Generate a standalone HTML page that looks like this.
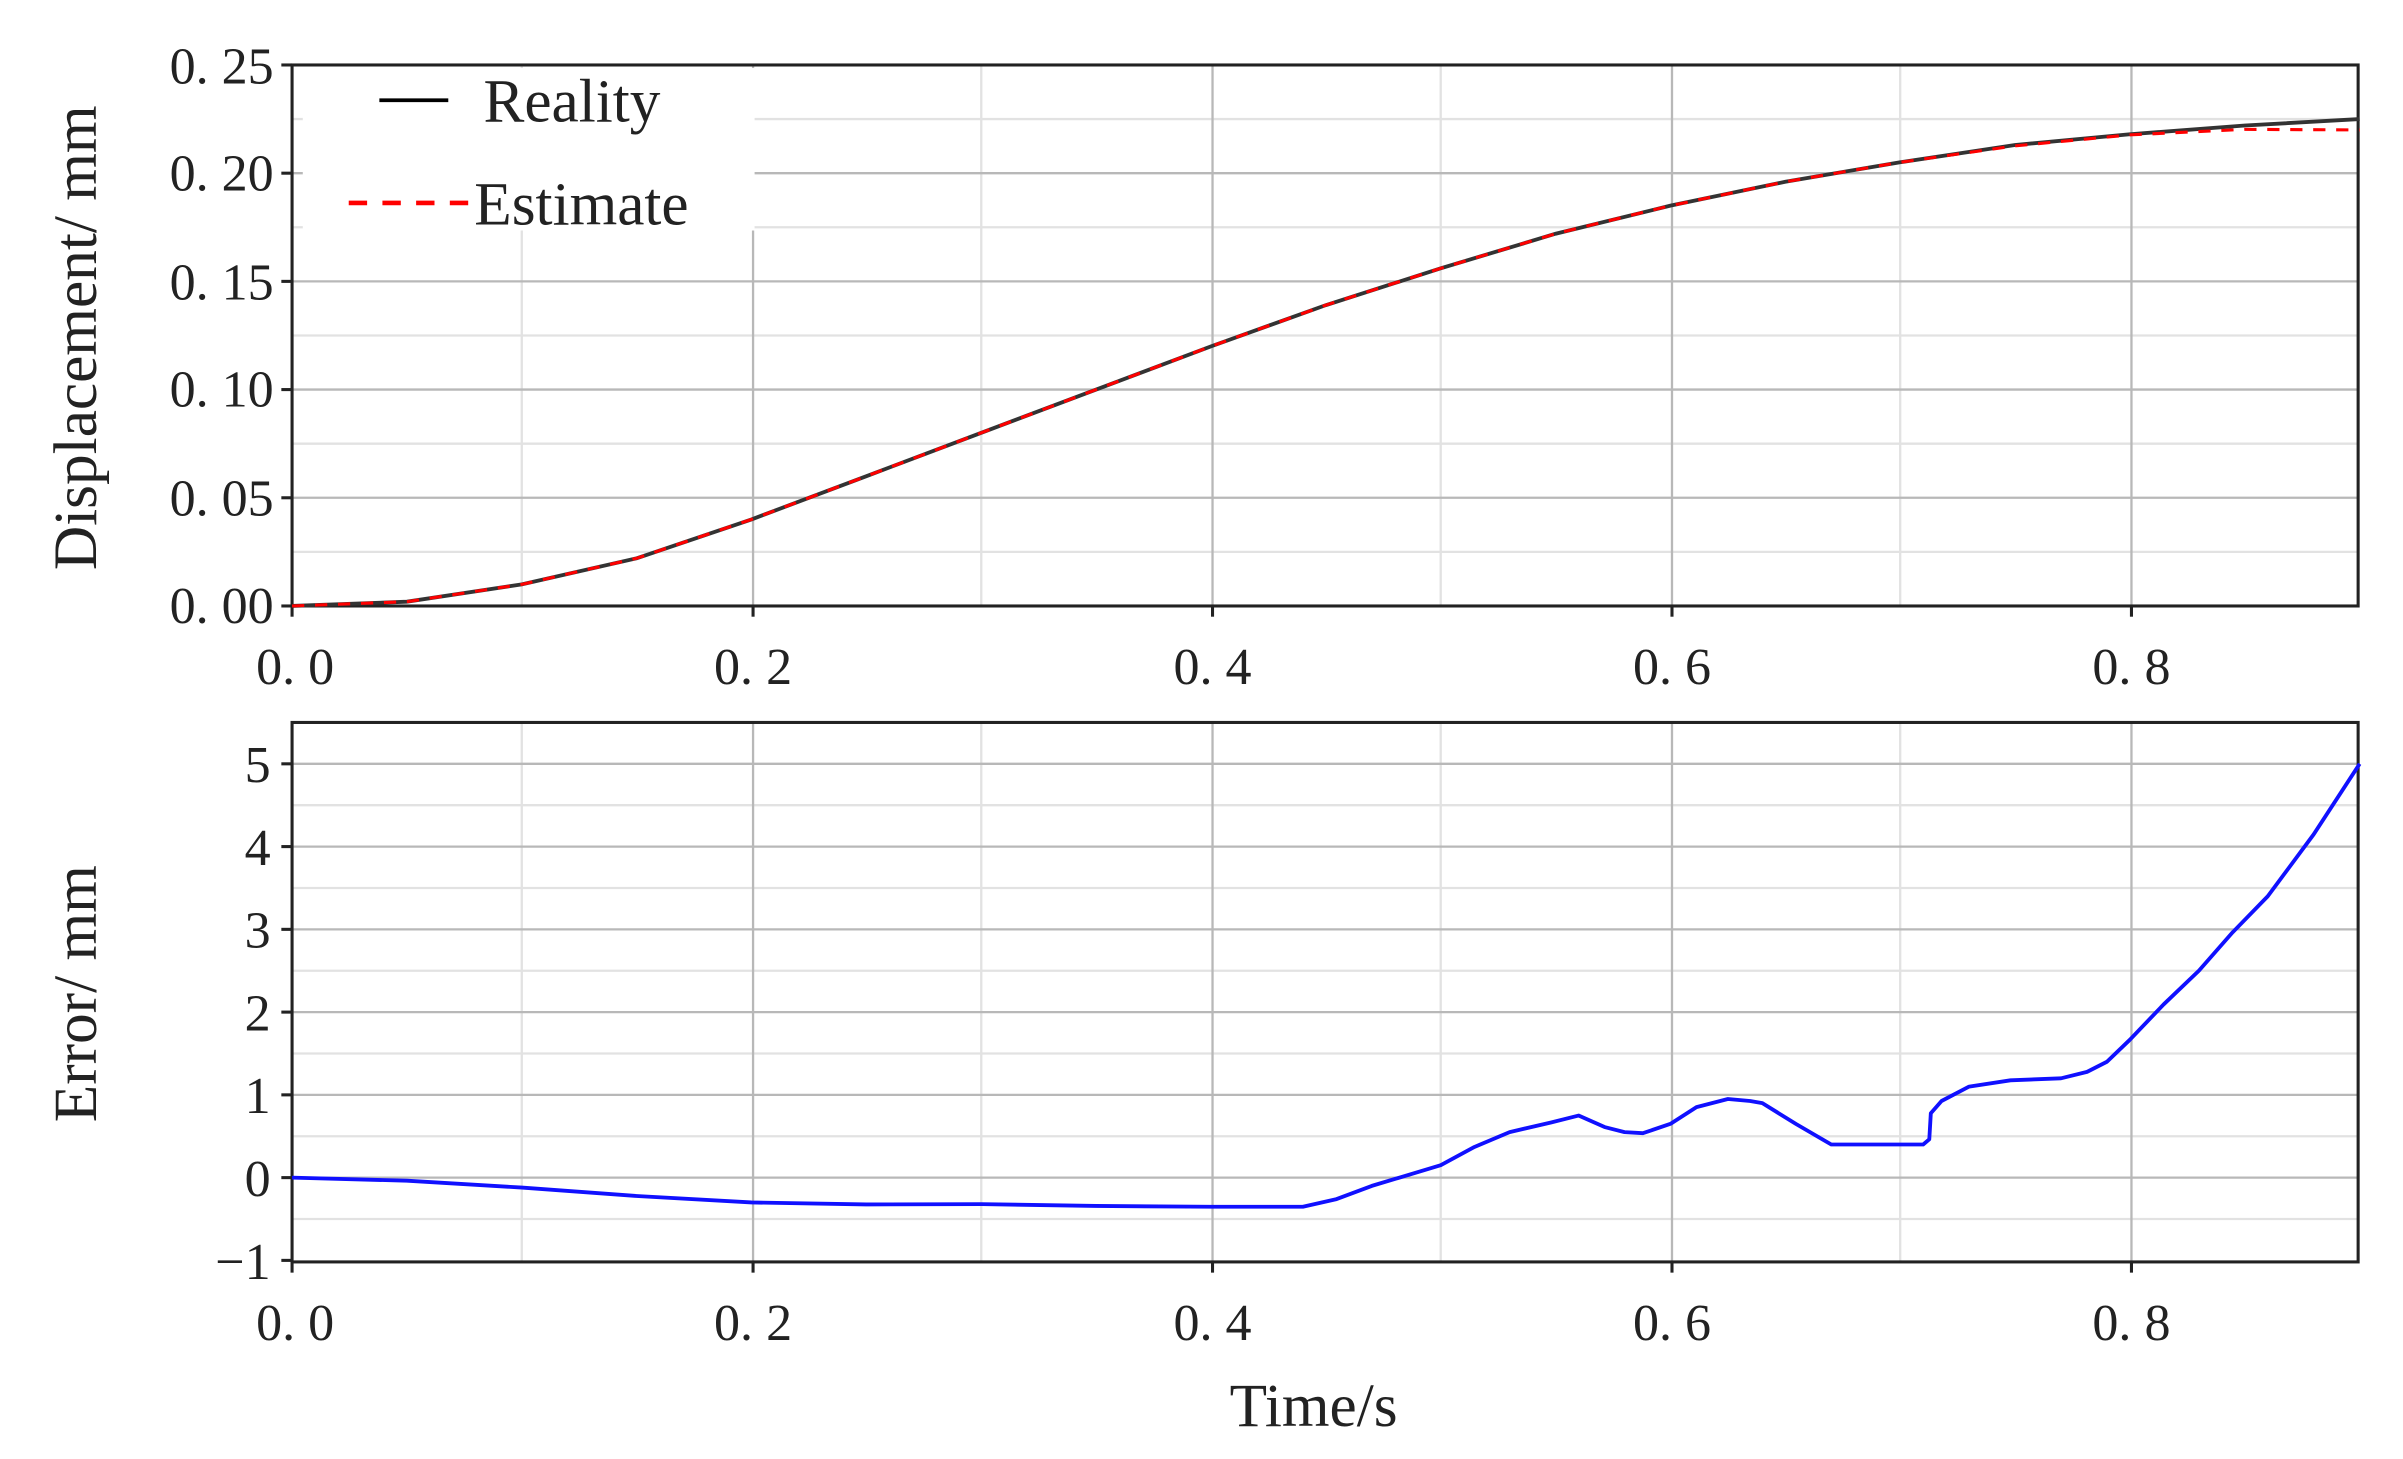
<!DOCTYPE html>
<html><head><meta charset="utf-8"><style>
html,body{margin:0;padding:0;background:#fff;}
svg{display:block;}
text{font-family:"Liberation Serif",serif;fill:#222;}
</style></head><body>
<svg width="2403" height="1459" viewBox="-2.7 1.6 1569 952" preserveAspectRatio="none" xmlns="http://www.w3.org/2000/svg">
<rect x="-10" y="-10" width="1600" height="980" fill="#fff"/>
<g stroke="#e2e2e2" stroke-width="1.5">
<line x1="338" y1="44" x2="338" y2="397"/><line x1="638" y1="44" x2="638" y2="397"/><line x1="938" y1="44" x2="938" y2="397"/><line x1="1238" y1="44" x2="1238" y2="397"/>
<line x1="188" y1="79.3" x2="1537" y2="79.3"/><line x1="188" y1="149.9" x2="1537" y2="149.9"/><line x1="188" y1="220.5" x2="1537" y2="220.5"/><line x1="188" y1="291.1" x2="1537" y2="291.1"/><line x1="188" y1="361.7" x2="1537" y2="361.7"/>
</g>
<g stroke="#b8b8b8" stroke-width="1.5">
<line x1="489" y1="44" x2="489" y2="397"/><line x1="789" y1="44" x2="789" y2="397"/><line x1="1089" y1="44" x2="1089" y2="397"/><line x1="1389" y1="44" x2="1389" y2="397"/>
<line x1="188" y1="114.6" x2="1537" y2="114.6"/><line x1="188" y1="185.2" x2="1537" y2="185.2"/><line x1="188" y1="255.8" x2="1537" y2="255.8"/><line x1="188" y1="326.4" x2="1537" y2="326.4"/>
</g>
<rect x="195" y="46" width="295" height="106" fill="#fff"/>
<rect x="188" y="44" width="1349" height="353" fill="none" stroke="#222" stroke-width="2"/>
<g stroke="#222" stroke-width="2">
<line x1="181" y1="44" x2="188" y2="44"/><line x1="181" y1="114.6" x2="188" y2="114.6"/><line x1="181" y1="185.2" x2="188" y2="185.2"/><line x1="181" y1="255.8" x2="188" y2="255.8"/><line x1="181" y1="326.4" x2="188" y2="326.4"/><line x1="181" y1="397" x2="188" y2="397"/>
<line x1="489" y1="397" x2="489" y2="404"/><line x1="789" y1="397" x2="789" y2="404"/><line x1="1089" y1="397" x2="1089" y2="404"/><line x1="1389" y1="397" x2="1389" y2="404"/><line x1="188" y1="397" x2="188" y2="404"/>
</g>
<g font-size="34" text-anchor="end">
<text x="176" y="56">0. 25</text><text x="176" y="126">0. 20</text><text x="176" y="197">0. 15</text><text x="176" y="267">0. 10</text><text x="176" y="338">0. 05</text><text x="176" y="408">0. 00</text>
</g>
<g font-size="34" text-anchor="middle">
<text x="190" y="448">0. 0</text><text x="489" y="448">0. 2</text><text x="789" y="448">0. 4</text><text x="1089" y="448">0. 6</text><text x="1389" y="448">0. 8</text>
</g>
<text transform="translate(60,222) rotate(-90)" font-size="40" text-anchor="middle">Displacement/ mm</text>
<path d="M188,397 L263,394.2 L338,382.9 L413,365.9 L488,340.5 L563,312.3 L638,284 L713,255.8 L788,227.6 L863,200.7 L938,176.7 L1013,154.1 L1088,135.8 L1163,120.2 L1238,107.5 L1313,96.2 L1388,89.2 L1463,83.5 L1538,79.3" fill="none" stroke="#333" stroke-width="2.5"/>
<path d="M188,397 L263,394.2 L338,382.9 L413,365.9 L488,340.5 L563,312.3 L638,284 L713,255.8 L788,227.6 L863,200.7 L938,176.7 L1013,154.1 L1088,135.8 L1163,120.2 L1238,107.5 L1313,96.8 L1388,89.6 L1463,86 L1538,86.4" fill="none" stroke="#f00" stroke-width="2" stroke-dasharray="8,7"/>
<line x1="245" y1="67" x2="290" y2="67" stroke="#000" stroke-width="2.5"/>
<text x="313" y="81" font-size="40" fill="#000">Reality</text>
<line x1="225" y1="134" x2="305" y2="134" stroke="#f00" stroke-width="3" stroke-dasharray="12,10"/>
<text x="307" y="148" font-size="40" fill="#000">Estimate</text>
<g stroke="#e2e2e2" stroke-width="1.5">
<line x1="338" y1="473" x2="338" y2="825"/><line x1="638" y1="473" x2="638" y2="825"/><line x1="938" y1="473" x2="938" y2="825"/><line x1="1238" y1="473" x2="1238" y2="825"/>
<line x1="188" y1="527" x2="1537" y2="527"/><line x1="188" y1="581" x2="1537" y2="581"/><line x1="188" y1="635" x2="1537" y2="635"/><line x1="188" y1="689" x2="1537" y2="689"/><line x1="188" y1="743" x2="1537" y2="743"/><line x1="188" y1="797" x2="1537" y2="797"/>
</g>
<g stroke="#b8b8b8" stroke-width="1.5">
<line x1="489" y1="473" x2="489" y2="825"/><line x1="789" y1="473" x2="789" y2="825"/><line x1="1089" y1="473" x2="1089" y2="825"/><line x1="1389" y1="473" x2="1389" y2="825"/>
<line x1="188" y1="500" x2="1537" y2="500"/><line x1="188" y1="554" x2="1537" y2="554"/><line x1="188" y1="608" x2="1537" y2="608"/><line x1="188" y1="662" x2="1537" y2="662"/><line x1="188" y1="716" x2="1537" y2="716"/><line x1="188" y1="770" x2="1537" y2="770"/>
</g>
<rect x="188" y="473" width="1349" height="352" fill="none" stroke="#222" stroke-width="2"/>
<g stroke="#222" stroke-width="2">
<line x1="181" y1="500" x2="188" y2="500"/><line x1="181" y1="554" x2="188" y2="554"/><line x1="181" y1="608" x2="188" y2="608"/><line x1="181" y1="662" x2="188" y2="662"/><line x1="181" y1="716" x2="188" y2="716"/><line x1="181" y1="770" x2="188" y2="770"/><line x1="181" y1="824" x2="188" y2="824"/>
<line x1="188" y1="825" x2="188" y2="832"/><line x1="489" y1="825" x2="489" y2="832"/><line x1="789" y1="825" x2="789" y2="832"/><line x1="1089" y1="825" x2="1089" y2="832"/><line x1="1389" y1="825" x2="1389" y2="832"/>
</g>
<g font-size="34" text-anchor="end">
<text x="174" y="512">5</text><text x="174" y="566">4</text><text x="174" y="620">3</text><text x="174" y="674">2</text><text x="174" y="728">1</text><text x="174" y="782">0</text><text x="174" y="836">−1</text>
</g>
<g font-size="34" text-anchor="middle">
<text x="190" y="876">0. 0</text><text x="489" y="876">0. 2</text><text x="789" y="876">0. 4</text><text x="1089" y="876">0. 6</text><text x="1389" y="876">0. 8</text>
</g>
<text transform="translate(60,650) rotate(-90)" font-size="40" text-anchor="middle">Error/ mm</text>
<text x="855" y="932" font-size="40" text-anchor="middle">Time/s</text>
<path d="M188,770 L263,772 L338,776.5 L413,782 L488,786.2 L563,787.5 L638,787.3 L713,788.5 L788,789 L848,789 L870,784 L893,775.4 L938,761.9 L960,750 L983,740.3 L1010,734 L1028,729.5 L1045,737 L1058,740.3 L1070,741 L1088,734.9 L1105,724 L1125.5,718.7 L1140,720 L1148,721.4 L1170,735 L1193,748.4 L1253,748.4 L1257,745 L1258,728 L1265,720 L1283,710.6 L1310,706.5 L1343,705.2 L1360,701 L1373,694.4 L1388,680 L1410,657 L1433,635 L1455,610 L1478,586.4 L1508,546 L1538,500" fill="none" stroke="#1010ff" stroke-width="2.5" stroke-linejoin="round"/>
</svg>
</body></html>
